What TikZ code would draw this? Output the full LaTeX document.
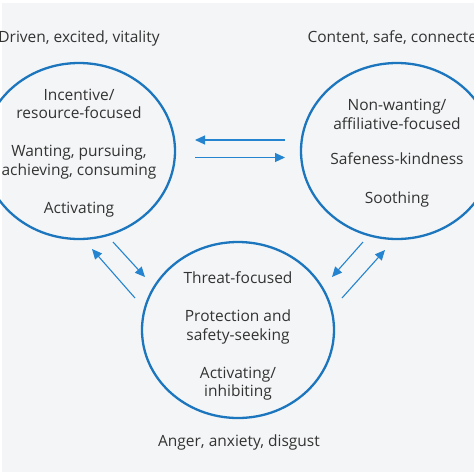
\documentclass[tikz,border=0pt]{standalone}
\usepackage{fontspec}
\setmainfont{Open Sans}
\usetikzlibrary{shapes.geometric, arrows.meta, positioning}
\definecolor{paper}{HTML}{F4F5F6}
\definecolor{ringblue}{HTML}{1C76BE}
\definecolor{arrowblue}{HTML}{2584D0}
\definecolor{inkgrey}{HTML}{333333}

\begin{document}
\begin{tikzpicture}[x=1pt, y=-1pt,
  system/.style={ellipse, draw=ringblue, line width=2.3pt,
                 minimum width=192pt, minimum height=176pt, inner sep=0pt},
  systext/.style={align=center, text=inkgrey, inner sep=0pt,
                  font=\fontsize{15.5}{18.5}\selectfont},
  flow/.style={draw=arrowblue, line width=1.1pt,
               -{Triangle[length=10pt, width=9pt]}}]
% page and background
\fill[white] (0,0) rectangle (474,474);
\fill[paper] (2,3) rectangle (474,472);
\clip (0,0) rectangle (474,474);

% the three systems
\node[system] (drive)  at (79,151)  {};
\node[system] (soothe) at (397,151) {};
\node[system] (threat) at (238,330) {};

\node[systext] (drivetext) at ([yshift=-2pt]drive.center) {Incentive/\\resource-focused\\[19.5pt]
  Wanting, pursuing,\\achieving, consuming\\[19.5pt]Activating};
\node[systext] (soothetext) at ([yshift=-2pt]soothe.center) {Non-wanting/\\affiliative-focused\\[17pt]
  Safeness-kindness\\[20pt]Soothing};
\node[systext] (threattext) at ([yshift=-6pt]threat.center) {Threat-focused\\[19.5pt]
  Protection and\\safety-seeking\\[19.5pt]Activating/\\inhibiting};

% feelings
\node[systext] (drivemood)  at (79,38)  {Driven, excited, vitality};
\node[systext] (soothemood) at (397,38) {Content, safe, connected};
\node[systext] (threatmood) at (239,442) {Anger, anxiety, disgust};

% arrow ends
\coordinate (sd1) at (285,140);   \coordinate (sd2) at (195,140);
\coordinate (ds1) at (195,157.5); \coordinate (ds2) at (285,157.5);
\coordinate (dt1) at (113,242);   \coordinate (dt2) at (145,277);
\coordinate (td1) at (135,298);   \coordinate (td2) at (92,249);
\coordinate (st1) at (363,242);   \coordinate (st2) at (332,277);
\coordinate (ts1) at (342,298);   \coordinate (ts2) at (385,250);

\draw[flow] (sd1) -- (sd2);
\draw[flow] (ds1) -- (ds2);
\draw[flow] (dt1) -- (dt2);
\draw[flow] (td1) -- (td2);
\draw[flow] (st1) -- (st2);
\draw[flow] (ts1) -- (ts2);
\end{tikzpicture}
\end{document}
